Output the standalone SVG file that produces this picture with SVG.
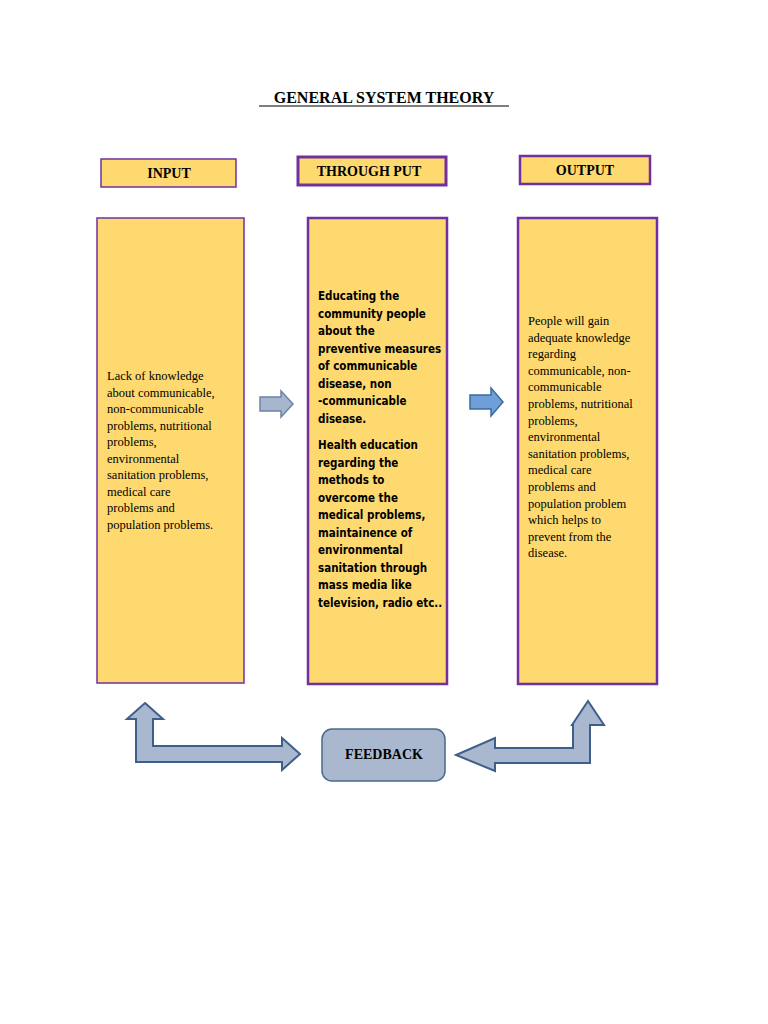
<svg xmlns="http://www.w3.org/2000/svg" width="768" height="1024" viewBox="0 0 768 1024">
<style>
.box{fill:#fdd96f;stroke:#7030a0}
.h{font-family:"Liberation Serif",serif;font-weight:bold;font-size:14px;text-anchor:middle}
.s{font-family:"Liberation Serif",serif;font-size:12.5px}
.c{font-family:"DejaVu Sans Condensed","Liberation Sans",sans-serif;font-weight:bold;font-size:11.5px}
.arr{fill:#aab8cf;stroke:#3e5f8a;stroke-width:2}
</style>
<rect width="768" height="1024" fill="#fff"/>
<text x="384" y="103" class="h" style="font-size:16px">GENERAL SYSTEM THEORY</text>
<line x1="259" y1="106" x2="509" y2="106" stroke="#000" stroke-width="1.2"/>
<g id="input-h"><rect class="box" x="101" y="159" width="135" height="28" stroke-width="1.5"/><text x="169" y="178" class="h">INPUT</text></g>
<g id="through-h"><rect class="box" x="298" y="157" width="148" height="28" stroke-width="3"/><text x="369" y="176" class="h">THROUGH PUT</text></g>
<g id="output-h"><rect class="box" x="520" y="156" width="130" height="28" stroke-width="2.5"/><text x="585" y="175" class="h">OUTPUT</text></g>
<g id="input"><rect class="box" x="97" y="218" width="147" height="465" stroke-width="1.5"/>
<text class="s" x="107" y="380"><tspan x="107">Lack of knowledge</tspan><tspan x="107" dy="16.5">about communicable,</tspan><tspan x="107" dy="16.5">non-communicable</tspan><tspan x="107" dy="16.5">problems, nutritional</tspan><tspan x="107" dy="16.5">problems,</tspan><tspan x="107" dy="16.5">environmental</tspan><tspan x="107" dy="16.5">sanitation problems,</tspan><tspan x="107" dy="16.5">medical care</tspan><tspan x="107" dy="16.5">problems and</tspan><tspan x="107" dy="16.5">population problems.</tspan></text></g>
<g id="through"><rect class="box" x="308" y="218" width="139" height="466" stroke-width="2.5"/>
<text class="c" x="318" y="300"><tspan x="318">Educating the</tspan><tspan x="318" dy="17.5">community people</tspan><tspan x="318" dy="17.5">about the</tspan><tspan x="318" dy="17.5">preventive measures</tspan><tspan x="318" dy="17.5">of communicable</tspan><tspan x="318" dy="17.5">disease, non</tspan><tspan x="318" dy="17.5">-communicable</tspan><tspan x="318" dy="17.5">disease.</tspan><tspan x="318" dy="26.5">Health education</tspan><tspan x="318" dy="17.5">regarding the</tspan><tspan x="318" dy="17.5">methods to</tspan><tspan x="318" dy="17.5">overcome the</tspan><tspan x="318" dy="17.5">medical problems,</tspan><tspan x="318" dy="17.5">maintainence of</tspan><tspan x="318" dy="17.5">environmental</tspan><tspan x="318" dy="17.5">sanitation through</tspan><tspan x="318" dy="17.5">mass media like</tspan><tspan x="318" dy="17.5">television, radio etc..</tspan></text></g>
<g id="output"><rect class="box" x="518" y="218" width="139" height="466" stroke-width="2.5"/>
<text class="s" x="528" y="325"><tspan x="528">People will gain</tspan><tspan x="528" dy="16.6">adequate knowledge</tspan><tspan x="528" dy="16.6">regarding</tspan><tspan x="528" dy="16.6">communicable, non-</tspan><tspan x="528" dy="16.6">communicable</tspan><tspan x="528" dy="16.6">problems, nutritional</tspan><tspan x="528" dy="16.6">problems,</tspan><tspan x="528" dy="16.6">environmental</tspan><tspan x="528" dy="16.6">sanitation problems,</tspan><tspan x="528" dy="16.6">medical care</tspan><tspan x="528" dy="16.6">problems and</tspan><tspan x="528" dy="16.6">population problem</tspan><tspan x="528" dy="16.6">which helps to</tspan><tspan x="528" dy="16.6">prevent from the</tspan><tspan x="528" dy="16.6">disease.</tspan></text></g>
<g id="feedback"><rect x="322" y="729" width="123" height="52" rx="10" fill="#aab8cf" stroke="#4a6a8c" stroke-width="1.5"/><text x="384" y="759" class="h">FEEDBACK</text></g>
<g id="connectors">
<polygon points="260,397 281,397 281,391 293,404 281,417 281,411 260,411" fill="#a7b6cd" stroke="#6a84a8" stroke-width="1.5"/>
<polygon points="470,395 491,395 491,388 503,402 491,416 491,409 470,409" fill="#6f9fd8" stroke="#3e6aa0" stroke-width="1.5"/>
<polygon class="arr" stroke-width="1.5" points="145,703 163,719 153,719 153,746 282,746 282,738 300,754 282,770 282,762 136,762 136,719 127,719"/>
<polygon class="arr" stroke-width="3" points="588,701 604,725 590,725 590,763 495,763 495,771 456,755 495,738 495,748 573,748 573,725 572,725"/>
</g>
</svg>
